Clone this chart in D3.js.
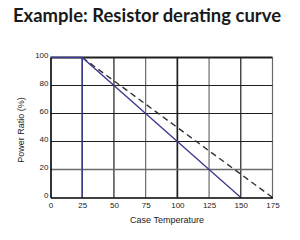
<!DOCTYPE html>
<html>
<head>
<meta charset="utf-8">
<script src="https://cdn.jsdelivr.net/npm/d3@7"></script>
<style>
  html, body { margin: 0; padding: 0; background: #fff; }
  svg { display: block; }
</style>
</head>
<body>
<div id="chart"></div>
<script>
(function () {
  "use strict";

  var xTicks = [0, 25, 50, 75, 100, 125, 150, 175];
  var yTicks = [0, 20, 40, 60, 80, 100];
  // derating curve (solid) and extended line (dashed)
  var curveTemp = [0, 25, 150];
  var curvePower = [100, 100, 0];
  var dashTemp = [25, 175];
  var dashPower = [100, 0];
  var markerTemp = [25, 25];
  var markerPower = [0, 100];

  var width = 300, height = 240;
  var left = 50.5, right = 272.5, top = 57.5, bottom = 197.5;

  var svg = d3.select("#chart").append("svg")
    .attr("width", width).attr("height", height);

  svg.append("text")
    .attr("x", 13).attr("y", 22)
    .attr("font-family", "Lato, 'Open Sans', sans-serif")
    .attr("font-weight", "bold")
    .attr("font-size", 18)
    .attr("fill", "#1a1a1a")
    .attr("textLength", 268)
    .attr("lengthAdjust", "spacingAndGlyphs")
    .text("Example: Resistor derating curve");

  var x = d3.scaleLinear().domain([0, 175]).range([left, right]);
  var y = d3.scaleLinear().domain([0, 100]).range([bottom, top]);

  var grid = svg.append("g");
  grid.selectAll("line.v")
    .data(xTicks.slice(1))
    .join("line")
    .attr("x1", function (d) { return x(d); })
    .attr("x2", function (d) { return x(d); })
    .attr("y1", y(0)).attr("y2", y(100))
    .attr("stroke", function (d) { return (d === 75 || d === 125 || d === 175) ? "#6a6a6a" : "#1e1e1e"; })
    .attr("stroke-width", function (d) { return d === 100 ? 1.7 : 1.2; });

  grid.selectAll("line.h")
    .data(yTicks.slice(1))
    .join("line")
    .attr("x1", x(0)).attr("x2", x(175))
    .attr("y1", function (d) { return y(d); })
    .attr("y2", function (d) { return y(d); })
    .attr("stroke", function (d) { return d === 20 ? "#6a6a6a" : "#1e1e1e"; })
    .attr("stroke-width", function (d) { return d === 100 ? 1.8 : (d === 20 ? 1.7 : 1.2); });

  var line = d3.line()
    .x(function (d) { return x(d[0]); })
    .y(function (d) { return y(d[1]); });

  svg.append("path")
    .attr("d", line(dashTemp.map(function (t, i) { return [t, dashPower[i]]; })))
    .attr("fill", "none")
    .attr("stroke", "#333")
    .attr("stroke-width", 1.4)
    .attr("stroke-dasharray", "6,4");

  svg.append("path")
    .attr("d", line(markerTemp.map(function (t, i) { return [t, markerPower[i]]; })))
    .attr("fill", "none")
    .attr("stroke", "#3b3a8f")
    .attr("stroke-width", 1.3);

  svg.append("path")
    .attr("d", line(curveTemp.map(function (t, i) { return [t, curvePower[i]]; })))
    .attr("fill", "none")
    .attr("stroke", "#3b3a8f")
    .attr("stroke-width", 1.3);

  var xAxis = svg.append("g")
    .attr("transform", "translate(0," + bottom + ")")
    .call(d3.axisBottom(x).tickValues(xTicks).tickSize(0).tickPadding(5));
  xAxis.select(".domain").attr("stroke", "#000").attr("stroke-width", 1.6);

  var yAxis = svg.append("g")
    .attr("transform", "translate(" + left + ",0)")
    .call(d3.axisLeft(y).tickValues(yTicks).tickSize(0).tickPadding(2));
  yAxis.select(".domain").attr("stroke", "#000").attr("stroke-width", 1.6);

  svg.selectAll(".tick text")
    .attr("font-family", "'Liberation Sans', Arial, sans-serif")
    .attr("font-size", 8)
    .attr("fill", "#222");
  yAxis.selectAll(".tick text").attr("dy", "-0.05em");

  svg.append("text")
    .attr("x", 167).attr("y", 223)
    .attr("text-anchor", "middle")
    .attr("font-family", "'Liberation Sans', Arial, sans-serif")
    .attr("font-size", 9)
    .attr("fill", "#222")
    .text("Case Temperature");

  svg.append("text")
    .attr("transform", "translate(24,130) rotate(-90)")
    .attr("text-anchor", "middle")
    .attr("font-family", "'Liberation Sans', Arial, sans-serif")
    .attr("font-size", 9)
    .attr("fill", "#222")
    .text("Power Ratio (%)");
})();
</script>
</body>
</html>
